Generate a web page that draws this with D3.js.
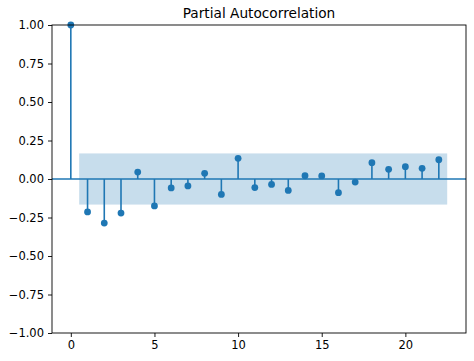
<!DOCTYPE html>
<html>
<head>
<meta charset="utf-8">
<script src="https://cdn.jsdelivr.net/npm/d3@7"></script>
<style>
  body { margin: 0; background: #fff; }
  text { font-family: "DejaVu Sans", sans-serif; fill: #000; }
</style>
</head>
<body>
<script>
// pacf values, lag 0..22
const lags = d3.range(0, 23);
const pacf = [1.0, -0.214, -0.286, -0.221, 0.045, -0.175, -0.058, -0.045, 0.037, -0.10,
              0.134, -0.056, -0.035, -0.074, 0.021, 0.020, -0.089, -0.02, 0.106, 0.063,
              0.080, 0.069, 0.125];
const confBand = 0.166;
const xTicks = [0, 5, 10, 15, 20];
const yTicks = [-1.0, -0.75, -0.5, -0.25, 0.0, 0.25, 0.5, 0.75, 1.0];

const W = 474, H = 361;
const MARGIN = { TOP: 25, BOTTOM: 28, LEFT: 52, RIGHT: 8 };
const BLUE = "#1f77b4";

const svg = d3.select("body").append("svg")
    .attr("width", W)
    .attr("height", H);

const x = d3.scaleLinear()
    .domain([-1.125, 23.625])
    .range([MARGIN.LEFT, W - MARGIN.RIGHT]);
const y = d3.scaleLinear()
    .domain([-1, 1])
    .range([H - MARGIN.BOTTOM, MARGIN.TOP]);

// confidence band
svg.append("rect")
    .attr("x", x(0.5))
    .attr("y", y(confBand))
    .attr("width", x(22.5) - x(0.5))
    .attr("height", y(-confBand) - y(confBand))
    .attr("fill", BLUE)
    .attr("fill-opacity", 0.25);

// zero line
svg.append("line")
    .attr("x1", x.range()[0]).attr("x2", x.range()[1])
    .attr("y1", y(0)).attr("y2", y(0))
    .attr("stroke", BLUE)
    .attr("stroke-width", 1.6);

// stems
svg.append("g").selectAll("line")
    .data(lags)
    .enter()
    .append("line")
    .attr("x1", d => x(d)).attr("x2", d => x(d))
    .attr("y1", y(0)).attr("y2", d => y(pacf[d]))
    .attr("stroke", BLUE)
    .attr("stroke-width", 1.6);

// markers
svg.append("g").selectAll("circle")
    .data(lags)
    .enter()
    .append("circle")
    .attr("cx", d => x(d))
    .attr("cy", d => y(pacf[d]))
    .attr("r", 3.4)
    .attr("fill", BLUE);

// axes
const xAxis = svg.append("g")
    .attr("transform", `translate(0,${H - MARGIN.BOTTOM})`)
    .call(d3.axisBottom(x).tickValues(xTicks).tickFormat(d3.format("d")).tickSizeOuter(0).tickSize(4).tickPadding(4));
const yAxis = svg.append("g")
    .attr("transform", `translate(${MARGIN.LEFT},0)`)
    .call(d3.axisLeft(y).tickValues(yTicks).tickFormat(d => d3.format(".2f")(d).replace("-", "\u2212")).tickSizeOuter(0).tickSize(4).tickPadding(4));

[xAxis, yAxis].forEach(a => {
    a.selectAll("text").attr("font-size", 11.5).style("font-family", "DejaVu Sans").attr("fill", "#000");
    a.selectAll("line").attr("stroke", "#000").attr("stroke-width", 0.9);
    a.select(".domain").remove();
});

// frame
svg.append("rect")
    .attr("x", MARGIN.LEFT)
    .attr("y", MARGIN.TOP)
    .attr("width", W - MARGIN.LEFT - MARGIN.RIGHT)
    .attr("height", H - MARGIN.TOP - MARGIN.BOTTOM)
    .attr("fill", "none")
    .attr("stroke", "#000")
    .attr("stroke-width", 0.9);

svg.append("text")
    .attr("x", (MARGIN.LEFT + W - MARGIN.RIGHT) / 2)
    .attr("y", MARGIN.TOP - 7)
    .attr("text-anchor", "middle")
    .attr("font-size", 13.7)
    .text("Partial Autocorrelation");
</script>
</body>
</html>
